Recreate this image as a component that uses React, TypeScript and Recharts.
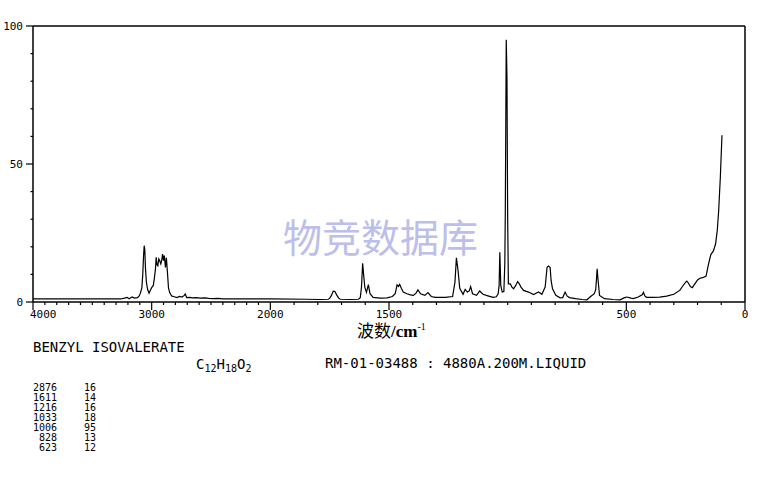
import { LineChart, Line, XAxis, YAxis, ReferenceLine } from "recharts";

// Raman shift (cm-1) and relative intensity, high to low wavenumber
const wavenumbers = [
  4000, 3700, 3400, 3260, 3230, 3207, 3190, 3165, 3145, 3120, 3105, 3095, 3083, 3075, 3068, 3063, 3058,
  3052, 3044, 3034, 3022, 3012, 3000, 2986, 2976, 2968, 2962, 2955, 2948, 2940, 2933, 2923, 2915, 2908,
  2900, 2893, 2884, 2876, 2867, 2858, 2848, 2832, 2810, 2787, 2765, 2745, 2725, 2717, 2705, 2680, 2655,
  2625, 2590, 2550, 2520, 2480, 2440, 2400, 2200, 2000, 1850, 1790, 1756, 1750, 1743, 1735, 1728, 1720,
  1712, 1705, 1663, 1629, 1621, 1616, 1611, 1607, 1602, 1595, 1587, 1580, 1567, 1537, 1508, 1486, 1474,
  1466, 1460, 1455, 1448, 1440, 1424, 1410, 1397, 1386, 1378, 1367, 1349, 1336, 1322, 1305, 1263, 1232,
  1222, 1216, 1209, 1202, 1188, 1179, 1170, 1162, 1156, 1148, 1131, 1118, 1104, 1090, 1062, 1048, 1040,
  1036, 1033, 1029, 1023, 1016, 1012, 1010, 1006, 1003, 1000, 997, 989, 982, 975, 966, 958, 951, 944,
  933, 912, 891, 870, 856, 842, 834, 828, 821, 817, 811, 797, 779, 768, 758, 750, 740, 714, 686, 666,
  653, 635, 629, 626, 623, 619, 613, 592, 556, 526, 510, 498, 480, 470, 450, 432, 428, 422, 415, 390,
  360, 330, 300, 275, 262, 250, 245, 238, 230, 222, 212, 200, 190, 178, 164, 154, 144, 133, 124, 117,
  111, 104, 97,
];
const intensities = [
  1.1, 1.1, 1.1, 1.1, 1.4, 1.7, 1.2, 1.8, 1.4, 1.6, 2.2, 3.2, 5, 10, 17, 20.4, 19,
  12, 7, 4.5, 3.2, 4.2, 5.2, 6, 9, 12, 16.2, 13.5, 13.1, 15.6, 15, 13.8, 15.2, 17.4,
  15, 16.8, 12.5, 16, 10.7, 5, 3.4, 2.2, 1.9, 1.6, 2.0, 1.8, 2.4, 2.9, 1.6, 1.7, 1.5,
  1.6, 1.4, 1.5, 1.3, 1.2, 1.3, 1.1, 1.1, 1.1, 1.0, 0.9, 1.0, 1.3, 2.3, 3.9, 3.8, 2.5,
  1.4, 1.0, 0.9, 1.0, 1.6, 5.4, 14, 10, 5.4, 3.5, 6.3, 3, 1.7, 1.4, 1.5, 2.0, 3,
  6.2, 5.6, 6.4, 5, 3.6, 3, 2.6, 2.4, 3.2, 4.4, 3, 2.4, 3.4, 2.0, 1.7, 1.7, 2.0,
  7.3, 16, 11.4, 5, 2.8, 4.6, 3.6, 4.0, 5.6, 3, 2.4, 4, 2.8, 2.4, 1.7, 1.9, 3.0,
  6, 18, 6, 3.6, 3.8, 14, 32, 95, 82, 30, 6.6, 6.6, 5.4, 4.8, 6.0, 7.4, 6.6, 5.4,
  4.2, 3.6, 2.7, 3.6, 2.8, 5.4, 12.6, 13, 12.5, 7.8, 4.8, 2.4, 1.5, 1.6, 3.6, 2.2, 1.6, 1.2, 0.9, 0.8,
  1.8, 3.0, 4.5, 8, 12, 7.9, 2.4, 1.2, 0.9, 0.8, 1.5, 1.8, 1.4, 1.2, 1.8, 2.7, 3.5, 2.2, 1.7, 1.7,
  1.8, 2.1, 2.8, 4.2, 5.8, 7.2, 7.6, 6.8, 5.6, 5.2, 6.5, 8, 8.6, 8.8, 9.4, 13.6, 17.2, 18.5, 21, 25.8,
  33, 45, 60.4,
];

const xTickLabels = [4000, 3000, 2000, 1500, 500, 0];
const yTickLabels = [0, 50, 100];

const peakPositions = ["2876", "1611", "1216", "1033", "1006", "828", "623"];
const peakHeights = ["16", "14", "16", "18", "95", "13", "12"];

const MONO = "'DejaVu Sans Mono', 'Liberation Mono', monospace";

// the wavenumber axis is compressed 2:1 above 2000 cm-1
const toAxis = (wn: number) => (wn > 2000 ? 2000 + (wn - 2000) / 2 : wn);
const fromAxis = (u: number) => Math.round(u > 2000 ? 2000 + (u - 2000) * 2 : u);

const xTicks: number[] = [];
for (let wn = 4000; wn >= 0; wn -= 100) xTicks.push(toAxis(wn));
const yTicks: number[] = [];
for (let v = 0; v <= 100; v += 10) yTicks.push(v);

const data = wavenumbers.map((wn, i) => ({ u: toAxis(wn), y: intensities[i] }));

function XTick({ x, y, payload }: any) {
  const wn = fromAxis(payload.value);
  const major = xTickLabels.includes(wn);
  return (
    <g>
      <line x1={x} x2={x} y1={y} y2={y + (major ? 8 : 3)} stroke="#000" strokeWidth={1.2} />
      {major && (
        <text
          x={wn === 4000 ? x - 3 : x}
          y={y + 16}
          textAnchor={wn === 4000 ? "start" : "middle"}
          fontSize={11}
          fontFamily={MONO}
          fill="#000"
        >
          {wn}
        </text>
      )}
    </g>
  );
}

function YTick({ x, y, payload }: any) {
  const major = yTickLabels.includes(payload.value);
  return (
    <g>
      <line x1={x - (major ? 7 : 2.5)} x2={x} y1={y} y2={y} stroke="#000" strokeWidth={1.2} />
      {major && (
        <text x={x - 10} y={y + 4} textAnchor="end" fontSize={11} fontFamily={MONO} fill="#000">
          {payload.value}
        </text>
      )}
    </g>
  );
}

export default function App() {
  return (
    <div style={{ position: "relative", width: 761, height: 477, background: "#fff" }}>
      <style>{"body{margin:0}"}</style>
      <LineChart
        width={761}
        height={477}
        data={data}
        margin={{ top: 26, right: 16, bottom: 155, left: 8 }}
      >
        <XAxis
          dataKey="u"
          type="number"
          domain={[0, 3000]}
          reversed
          ticks={xTicks}
          interval={0}
          tick={XTick}
          tickLine={false}
          tickSize={0}
          tickMargin={0}
          height={20}
          axisLine={{ stroke: "#000", strokeWidth: 1.5 }}
        />
        <YAxis
          type="number"
          domain={[0, 100]}
          ticks={yTicks}
          interval={0}
          tick={YTick}
          tickLine={false}
          tickSize={0}
          tickMargin={0}
          width={25}
          axisLine={{ stroke: "#000", strokeWidth: 1.5 }}
        />
        <ReferenceLine y={100} stroke="#000" strokeWidth={1.5} />
        <ReferenceLine x={0} stroke="#000" strokeWidth={1.5} />
        <Line
          dataKey="y"
          type="linear"
          stroke="#000"
          strokeWidth={1.2}
          dot={false}
          isAnimationActive={false}
        />
      </LineChart>
      <svg
        width={761}
        height={477}
        style={{ position: "absolute", left: 0, top: 0, pointerEvents: "none" }}
      >
        <text
          x={283}
          y={252}
          fontSize={39}
          fontFamily="'Noto Sans CJK SC', sans-serif"
          fill="#bcbfe9"
          letterSpacing={0}
        >
          物竞数据库
        </text>
        <text x={357} y={337} fontSize={17} fontFamily="'Liberation Serif', 'Noto Sans CJK SC', serif" fill="#000">
          波数
          <tspan fontWeight="bold">/cm</tspan>
          <tspan dy={-7} fontSize={10}>-1</tspan>
        </text>
        <text x={33} y={352} fontSize={14} fontFamily={MONO} fill="#000">
          BENZYL ISOVALERATE
        </text>
        <text x={196} y={369} fontSize={14} fontFamily={MONO} fill="#000">
          C<tspan fontSize={10} dy={3}>12</tspan>
          <tspan dy={-3}>H</tspan>
          <tspan fontSize={10} dy={3}>18</tspan>
          <tspan dy={-3}>O</tspan>
          <tspan fontSize={10} dy={3}>2</tspan>
        </text>
        <text x={325} y={368} fontSize={14} fontFamily={MONO} fill="#000">
          RM-01-03488 : 4880A.200M.LIQUID
        </text>
        {peakPositions.map((p, i) => (
          <g key={p}>
            <text x={57} y={391 + i * 10} textAnchor="end" fontSize={10} fontFamily={MONO} fill="#000">
              {p}
            </text>
            <text x={96} y={391 + i * 10} textAnchor="end" fontSize={10} fontFamily={MONO} fill="#000">
              {peakHeights[i]}
            </text>
          </g>
        ))}
      </svg>
    </div>
  );
}
